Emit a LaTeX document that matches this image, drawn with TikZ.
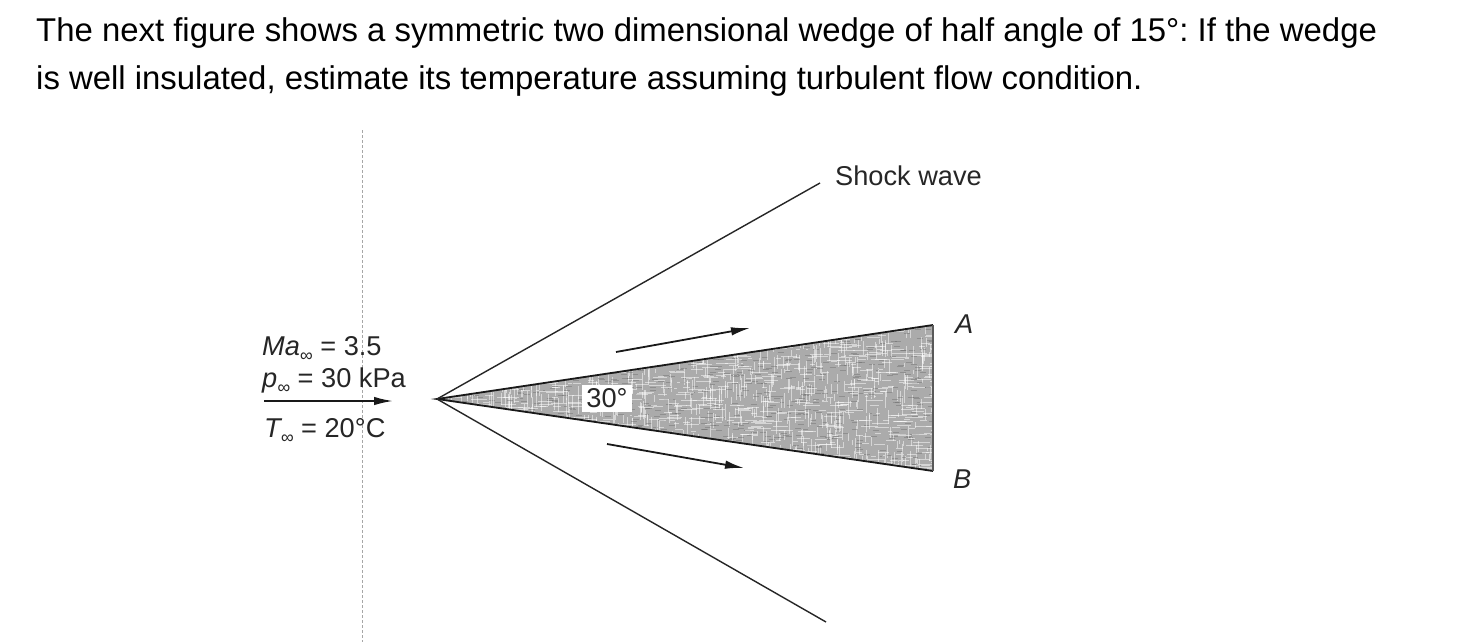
\documentclass[tikz,border=0pt]{standalone}
\usepackage{fontspec}
\setmainfont{Liberation Sans}
\frenchspacing
\newcommand{\subinf}{\raisebox{-0.25em}{\fontsize{18}{18}\selectfont ∞}}
\pgfmathsetseed{4242}
\usetikzlibrary{arrows.meta}
\tikzset{
  x=1pt,y=-1pt,
  heading/.style={anchor=base west,inner sep=0pt,font=\fontsize{32.9}{36}\selectfont,text=black},
  label/.style={anchor=base west,inner sep=0pt,font=\fontsize{27.2}{30}\selectfont,text=black!85},
  shock/.style={draw=black!85,line width=1.4pt},
  wedgeedge/.style={draw=black!90,line width=1.8pt,line join=miter},
  rearedge/.style={draw=black!65,line width=1.4pt},
  flow/.style={draw=black!90,line width=1.8pt,-{Latex[length=19pt,width=8.5pt]}},
  datum/.style={draw=black!35,line width=0.8pt,densely dashed},
  texture/.style={draw=white,line width=0.6pt,opacity=0.5},
  darktexture/.style={draw=black!60,line width=0.8pt,opacity=0.4},
}
\begin{document}
\begin{tikzpicture}
\useasboundingbox (0,0) rectangle (1472,642);
\fill[white] (0,0) rectangle (1472,642);
\node[heading] (line1) at (36,42) {The next figure shows a symmetric two dimensional wedge of half angle of 15°: If the wedge};
\node[heading] (line2) at (36,89) {is well insulated, estimate its temperature assuming turbulent flow condition.};
\coordinate (datumtop) at (362,130);
\coordinate (datumbot) at (362,642);
\draw[datum] (datumtop) -- (datumbot);
\coordinate (apex) at (437,399);
\coordinate (A) at (933,325);
\coordinate (B) at (933,471);
\begin{scope}
\clip (apex) -- (A) -- (B) -- cycle;
\fill[black!33] (437,320) rectangle (935,475);
\foreach \i in {1,...,1000}{
  \pgfmathsetmacro{\px}{437+rnd*498}
  \pgfmathsetmacro{\py}{322+rnd*152}
  \pgfmathsetmacro{\ln}{4+rnd*14}
  \draw[texture] (\px,\py) -- ++(\ln,0);
  \pgfmathsetmacro{\qx}{437+rnd*498}
  \pgfmathsetmacro{\qy}{322+rnd*152}
  \pgfmathsetmacro{\lm}{4+rnd*14}
  \draw[texture] (\qx,\qy) -- ++(0,\lm);
  \pgfmathsetmacro{\rx}{437+rnd*498}
  \pgfmathsetmacro{\ry}{322+rnd*152}
  \draw[darktexture] (\rx,\ry) -- ++(6,0);
}
\end{scope}
\draw[wedgeedge] (B) -- (apex) -- (A);
\draw[rearedge] (A) -- (B);
\coordinate (shockA) at (820,183);
\coordinate (shockB) at (826,622);
\draw[shock] (apex) -- (shockA);
\draw[shock] (apex) -- (shockB);
\node[fill=white,inner sep=0pt,minimum width=50pt,minimum height=27pt,font=\fontsize{27.2}{30}\selectfont,text=black!85] (angle) at (607,398.5) {30°};
\coordinate (upA) at (616,352);
\coordinate (upB) at (750,328);
\coordinate (loA) at (607,444);
\coordinate (loB) at (744,468);
\draw[flow] (upA) -- (upB);
\draw[flow] (loA) -- (loB);
\coordinate (inA) at (264,401);
\coordinate (inB) at (393,401);
\draw[flow] (inA) -- (inB);
\node[label] (ma) at (262,355) {\itshape Ma\subinf{} \upshape = 3.5};
\node[label] (pp) at (262,387) {\itshape p\subinf{} \upshape = 30 kPa};
\node[label] (tt) at (264,437) {\itshape T\subinf{} \upshape = 20°C};
\node[label] (shocklabel) at (835,185.5) {Shock wave};
\node[label] (labA) at (955,333) {\itshape A};
\node[label] (labB) at (953,488) {\itshape B};
\end{tikzpicture}
\end{document}
